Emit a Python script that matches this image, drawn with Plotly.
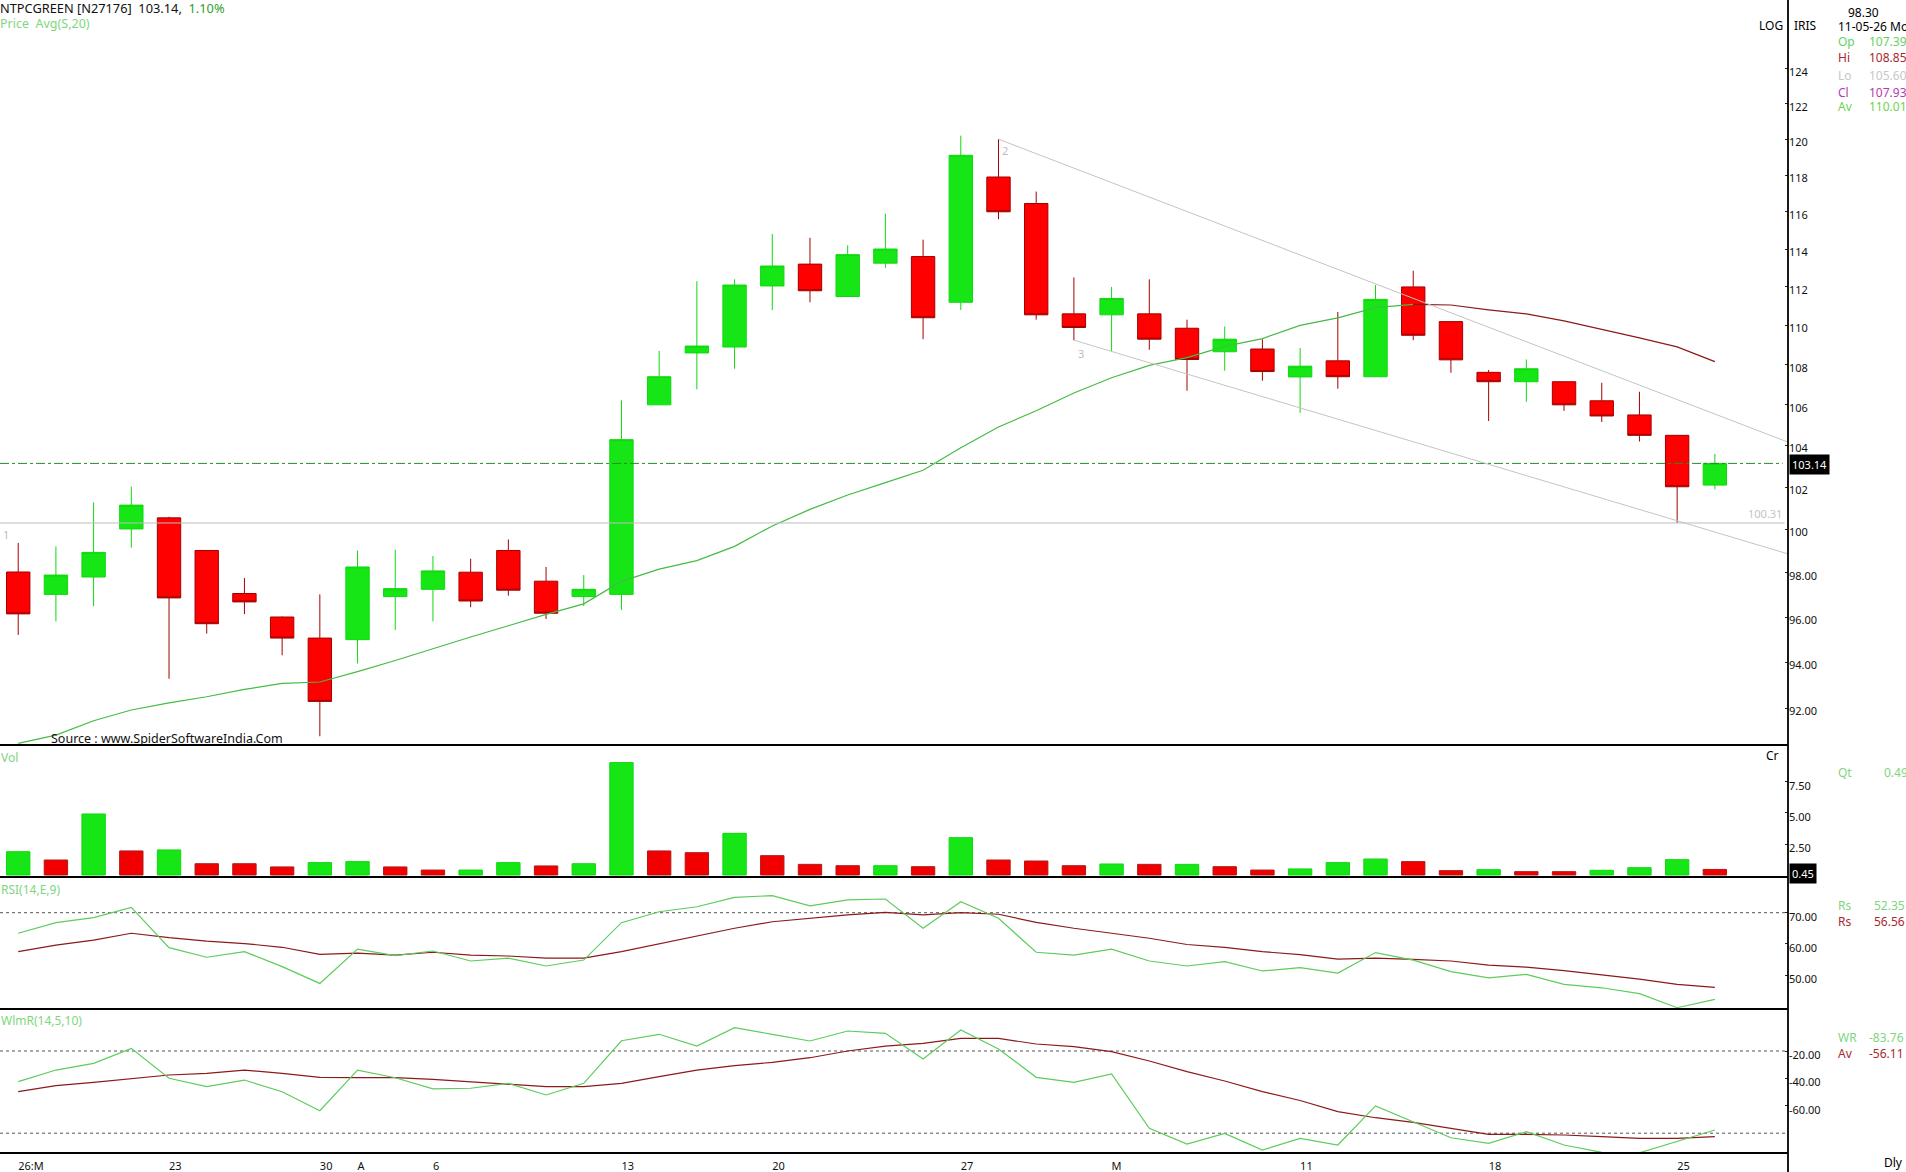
import math
import plotly.graph_objects as go

W, H = 1906, 1172
FONT = "Noto Sans"

# ---------------- data ----------------
dates = ["17-03", "18-03", "19-03", "20-03", "23-03", "24-03", "25-03", "27-03", "30-03",
         "01-04", "02-04", "06-04", "07-04", "08-04", "09-04", "10-04", "13-04", "15-04",
         "16-04", "17-04", "20-04", "21-04", "22-04", "23-04", "24-04", "27-04", "28-04",
         "29-04", "30-04", "04-05", "05-05", "06-05", "07-05", "08-05", "11-05", "12-05",
         "13-05", "14-05", "15-05", "18-05", "19-05", "20-05", "21-05", "22-05", "25-05",
         "26-05"]

opens = [98.04, 97.02, 97.81, 100.03, 100.55, 99.03, 97.06, 96.00, 95.06,
         94.99, 96.92, 97.25, 98.03, 99.03, 97.62, 96.92, 97.02, 106.00,
         108.60, 108.90, 112.05, 113.20, 111.50, 113.25, 113.60, 111.20, 117.90,
         116.45, 110.60, 110.55, 110.60, 109.86, 108.66, 108.80, 107.39, 108.20,
         107.40, 112.00, 110.20, 107.62, 107.15, 107.15, 106.20, 105.50, 104.50,
         102.10]
highs = [99.38, 99.22, 101.28, 102.03, 100.60, 99.05, 97.76, 96.02, 97.02,
         99.03, 99.07, 98.78, 98.65, 99.54, 98.27, 97.90, 106.22, 108.70,
         112.30, 112.40, 114.80, 114.60, 114.20, 115.90, 114.50, 120.20, 120.00,
         117.10, 112.50, 112.00, 112.40, 110.30, 109.95, 109.30, 108.85, 110.70,
         112.10, 112.85, 110.22, 107.74, 108.27, 107.17, 107.10, 106.65, 104.52,
         103.60]
lows = [95.20, 95.80, 96.49, 99.16, 93.27, 95.26, 96.13, 94.30, 90.80,
        93.94, 95.42, 95.80, 96.44, 96.96, 95.91, 96.49, 96.32, 106.00,
        106.77, 107.80, 110.80, 111.20, 111.50, 113.00, 109.30, 110.80, 115.60,
        110.30, 109.25, 108.70, 108.76, 106.70, 107.70, 107.20, 105.60, 106.80,
        107.40, 109.25, 107.60, 105.20, 106.15, 105.70, 105.15, 104.20, 100.31,
        101.90]
closes = [96.14, 97.90, 98.94, 101.15, 96.86, 95.70, 96.68, 95.06, 92.29,
          98.27, 97.28, 98.09, 96.72, 97.21, 96.17, 97.25, 104.29, 107.40,
          108.95, 112.10, 113.10, 111.80, 113.70, 114.00, 110.40, 119.10, 116.00,
          110.55, 109.90, 111.40, 109.30, 108.27, 109.30, 107.66, 107.93, 107.40,
          111.35, 109.50, 108.25, 107.15, 107.80, 106.00, 105.45, 104.50, 102.02,
          103.14]

price_avg20 = [90.50, 90.85, 91.46, 91.92, 92.23, 92.49, 92.81, 93.07, 93.13,
               93.58, 94.07, 94.60, 95.11, 95.61, 96.12, 96.59, 97.61, 98.17,
               98.56, 99.22, 100.17, 100.95, 101.63, 102.22, 102.81, 103.90, 104.91,
               105.71, 106.59, 107.35, 107.97, 108.36, 108.93, 109.33, 110.01, 110.39,
               110.92, 111.09, 111.06, 110.81, 110.60, 110.24, 109.81, 109.37, 108.91,
               108.16]
avg_turn_index = 37  # average line drawn green up to here, dark red after

volume_cr = [1.88, 1.21, 4.92, 1.94, 2.02, 0.91, 0.91, 0.65, 1.00,
             1.08, 0.65, 0.40, 0.40, 1.00, 0.73, 0.91, 9.06, 1.94,
             1.80, 3.36, 1.56, 0.86, 0.75, 0.75, 0.67, 3.01, 1.21,
             1.13, 0.75, 0.89, 0.86, 0.86, 0.67, 0.40, 0.49, 1.00,
             1.29, 1.08, 0.35, 0.43, 0.27, 0.27, 0.38, 0.59, 1.24,
             0.45]
volume_dir = ["G", "R", "G", "R", "G", "R", "R", "R", "G",
              "G", "R", "R", "G", "G", "R", "G", "G", "R",
              "R", "G", "R", "R", "R", "G", "R", "G", "R",
              "R", "R", "G", "R", "G", "R", "R", "G", "G",
              "G", "R", "R", "G", "R", "R", "G", "G", "G",
              "R"]

rsi = [63.4, 66.8, 68.4, 71.7, 58.8, 55.7, 57.5, 52.7, 47.3,
       58.3, 56.2, 57.7, 54.5, 55.4, 52.9, 54.8, 66.8, 70.3,
       71.9, 74.9, 75.5, 72.2, 74.1, 74.4, 65.0, 73.5, 68.2,
       57.3, 56.4, 58.3, 54.5, 52.9, 54.3, 51.3, 52.35, 50.6,
       57.2, 54.8, 51.1, 49.1, 50.2, 47.0, 45.9, 44.0, 39.5,
       42.2]
rsi_signal = [57.5, 59.6, 61.2, 63.4, 62.0, 60.9, 60.1, 58.9, 56.6,
              57.0, 56.4, 57.3, 56.4, 56.1, 55.4, 55.4, 57.5, 60.0,
              62.3, 65.0, 67.1, 68.2, 69.3, 70.1, 69.3, 70.0, 69.5,
              66.9, 65.0, 63.4, 61.8, 59.8, 58.9, 57.5, 56.56, 55.1,
              55.4, 55.0, 54.5, 53.2, 52.5, 51.4, 50.0, 48.7, 47.0,
              46.0]

willr = [-42.4, -33.9, -29.0, -18.1, -39.9, -46.0, -41.2, -49.7, -63.6,
         -33.9, -39.5, -47.7, -47.2, -43.6, -52.1, -43.6, -12.5, -7.8,
         -16.4, -3.0, -7.8, -12.7, -5.4, -7.1, -25.8, -4.7, -18.5,
         -39.2, -42.9, -36.8, -76.4, -87.9, -80.1, -92.3, -83.76, -88.6,
         -60.1, -71.6, -83.3, -87.4, -78.9, -88.6, -94.0, -94.3, -86.2,
         -77.7]
willr_avg = [-49.7, -45.3, -42.9, -40.4, -37.5, -36.3, -33.9, -36.3, -39.2,
             -39.5, -39.5, -40.7, -42.4, -44.3, -46.0, -46.0, -43.6, -38.7,
             -33.9, -30.7, -28.3, -24.9, -20.0, -16.4, -14.4, -10.8, -10.8,
             -14.9, -16.8, -20.5, -27.3, -35.1, -41.9, -49.7, -56.11, -64.3,
             -68.7, -72.1, -76.4, -80.8, -80.8, -81.3, -82.5, -83.8, -83.8,
             -82.5]

tick_dates = ["17-03", "23-03", "30-03", "01-04", "06-04", "13-04", "20-04",
              "27-04", "04-05", "11-05", "18-05", "25-05"]
tick_text = ["26:M", "23", "30", "A", "6", "13", "20", "27", "M", "11", "18", "25"]

price_ticks = [92, 94, 96, 98, 100, 102, 104, 106, 108, 110, 112, 114, 116, 118, 120, 122, 124]
price_tick_text = ["92.00", "94.00", "96.00", "98.00", "100", "102", "104", "106", "108",
                   "110", "112", "114", "116", "118", "120", "122", "124"]

last_price = 103.14
support_level = 100.31
# trend channel: [start index, start price] -> [end index, end price]
upper_trend_x = [26, 46.94]
upper_trend_y = [120.0, 104.17]
lower_trend_x = [28, 46.94]
lower_trend_y = [109.25, 98.87]

# ---------------- figure ----------------
x = list(range(len(dates)))
tick_idx = [dates.index(d) for d in tick_dates]
X0, X1 = -0.483, 46.94
XR = 1788 / W


def pyp(px):
    return 1 - px / H


GREEN = "#16e616"
RED = "#ff0000"
DRED = "#a40000"

fig = go.Figure()

# price candles
fig.add_trace(go.Candlestick(
    x=x, open=opens, high=highs, low=lows, close=closes,
    increasing=dict(line=dict(color="#10d810", width=1), fillcolor=GREEN),
    decreasing=dict(line=dict(color=DRED, width=1), fillcolor=RED),
    whiskerwidth=0, xaxis="x", yaxis="y", hoverinfo="skip"))

# price average
fig.add_trace(go.Scatter(x=x[:avg_turn_index + 1], y=price_avg20[:avg_turn_index + 1],
                         mode="lines", line=dict(color="#45bb45", width=1.2),
                         xaxis="x", yaxis="y"))
fig.add_trace(go.Scatter(x=x[avg_turn_index:], y=price_avg20[avg_turn_index:],
                         mode="lines", line=dict(color="#8b1a1a", width=1.2),
                         xaxis="x", yaxis="y"))

# horizontal references
fig.add_trace(go.Scatter(x=[X0, 46.85], y=[support_level, support_level], mode="lines",
                         line=dict(color="#bdbdbd", width=1), xaxis="x", yaxis="y"))
fig.add_trace(go.Scatter(x=[X0, 46.8], y=[last_price, last_price], mode="lines",
                         line=dict(color="#2a8a2a", width=1, dash="dashdot"),
                         xaxis="x", yaxis="y"))
# trend channel
fig.add_trace(go.Scatter(x=upper_trend_x, y=upper_trend_y, mode="lines",
                         line=dict(color="#c4c4c4", width=1), xaxis="x", yaxis="y"))
fig.add_trace(go.Scatter(x=lower_trend_x, y=lower_trend_y, mode="lines",
                         line=dict(color="#c4c4c4", width=1), xaxis="x", yaxis="y"))

# volume
vcol = [GREEN if d == "G" else "#f20000" for d in volume_dir]
vline = ["#10d810" if d == "G" else "#b01818" for d in volume_dir]
fig.add_trace(go.Bar(x=x, y=volume_cr, width=0.62, marker=dict(color=vcol, line=dict(color=vline, width=1)),
                     xaxis="x", yaxis="y2"))

# RSI
fig.add_trace(go.Scatter(x=[X0, X1], y=[70, 70], mode="lines",
                         line=dict(color="#555555", width=1, dash="dot"), xaxis="x", yaxis="y3"))
fig.add_trace(go.Scatter(x=x, y=rsi_signal, mode="lines", line=dict(color="#8b1a1a", width=1.2),
                         xaxis="x", yaxis="y3"))
fig.add_trace(go.Scatter(x=x, y=rsi, mode="lines", line=dict(color="#5ccc5c", width=1.2),
                         xaxis="x", yaxis="y3"))

# Williams %R
for lvl in (-20, -80):
    fig.add_trace(go.Scatter(x=[X0, X1], y=[lvl, lvl], mode="lines",
                             line=dict(color="#555555", width=1, dash="dot"), xaxis="x", yaxis="y4"))
fig.add_trace(go.Scatter(x=x, y=willr_avg, mode="lines", line=dict(color="#8b1a1a", width=1.2),
                         xaxis="x", yaxis="y4"))
fig.add_trace(go.Scatter(x=x, y=willr, mode="lines", line=dict(color="#5ccc5c", width=1.2),
                         xaxis="x", yaxis="y4"))

tickfont = dict(family=FONT, size=11, color="#111111")
common_y = dict(side="right", anchor="x", showgrid=False, zeroline=False, showline=False,
                ticks="inside", ticklen=3, tickcolor="#222222", tickfont=tickfont,
                fixedrange=True)

fig.update_layout(
    width=W, height=H, margin=dict(l=0, r=0, t=0, b=0),
    paper_bgcolor="white", plot_bgcolor="white", showlegend=False,
    boxgap=0.38, boxgroupgap=0, bargap=0.38,
    xaxis=dict(domain=[0, XR], range=[X0, X1], anchor="y4", showgrid=False, zeroline=False,
               showline=False, tickvals=tick_idx, ticktext=tick_text, ticks="",
               ticklabelposition="outside right", tickfont=tickfont, ticklabelstandoff=5,
               rangeslider=dict(visible=False), fixedrange=True),
    yaxis=dict(domain=[pyp(745), 1], type="log",
               range=[math.log10(90.43), math.log10(128.06)],
               tickvals=price_ticks, ticktext=price_tick_text, ticklabelshift=3, **common_y),
    yaxis2=dict(domain=[pyp(877), pyp(745)], range=[-0.16, 10.48],
                tickvals=[2.5, 5, 7.5], ticktext=["2.50", "5.00", "7.50"],
                ticklabelshift=4, **common_y),
    yaxis3=dict(domain=[pyp(1009), pyp(877)], range=[39.09, 81.46],
                tickvals=[50, 60, 70], ticktext=["50.00", "60.00", "70.00"],
                ticklabelshift=4, **common_y),
    yaxis4=dict(domain=[pyp(1153), pyp(1009)], range=[-94.45, 10.66],
                tickvals=[-60, -40, -20], ticktext=["-60.00", "-40.00", "-20.00"],
                ticklabelshift=4, **common_y),
)

# frame lines
shapes = [dict(type="line", xref="paper", yref="paper", x0=XR, x1=XR, y0=0, y1=1,
               line=dict(color="black", width=1.8))]
for ypx in (745, 877, 1009, 1153):
    shapes.append(dict(type="line", xref="paper", yref="paper", x0=0, x1=XR,
                       y0=pyp(ypx), y1=pyp(ypx), line=dict(color="black", width=1.8)))
fig.update_layout(shapes=shapes)


def note(text, xpx, ypx, color="black", size=12, xanchor="left", **kw):
    return dict(text=text, x=xpx / W, y=pyp(ypx), xref="paper", yref="paper",
                xanchor=xanchor, yanchor="middle", showarrow=False,
                font=dict(family=FONT, size=size, color=color), **kw)


LG = "#7ed67e"
ann = [
    note("NTPCGREEN [N27176]&nbsp;&nbsp;103.14,&nbsp;&nbsp;<span style='color:#2f9e2f'>1.10%</span>",
         -1, 8, color="#111111", size=12.8, borderpad=0),
    note("Price&nbsp;&nbsp;Avg(S,20)", -1, 23, color=LG, size=12.5, borderpad=0),
    note("LOG", 1771, 26, xanchor="center"),
    note("IRIS", 1805, 26, xanchor="center"),
    note("98.30", 1863, 12, xanchor="center"),
    note("11-05-26 Mo", 1836, 27),
    note("Op", 1836, 42, color="#5fd35f"), note("107.39", 1867, 42, color="#5fd35f"),
    note("Hi", 1836, 58, color="#a8282d"), note("108.85", 1867, 58, color="#a8282d"),
    note("Lo", 1836, 76, color="#c8c8c8"), note("105.60", 1867, 76, color="#c8c8c8"),
    note("Cl", 1836, 92, color="#b23cb2"), note("107.93", 1867, 92, color="#b23cb2"),
    note("Av", 1836, 107, color="#72d24f"), note("110.01", 1867, 107, color="#72d24f"),
    note("103.14", 1789, 465, color="white", size=11, bgcolor="black", borderpad=2),
    note("100.31", 1784, 513, color="#c4c4c4", size=11, xanchor="right"),
    note("1", 6, 534, color="#bdbdbd", size=11, xanchor="center"),
    note("2", 1005, 150, color="#bdbdbd", size=11, xanchor="center"),
    note("3", 1081, 353, color="#bdbdbd", size=11, xanchor="center"),
    note("Source : www.SpiderSoftwareIndia.Com", 49, 738, color="#111111", size=12.5),
    note("Vol", -1, 757, color=LG, size=12),
    note("Cr", 1772, 755, xanchor="center"),
    note("Qt", 1836, 772, color=LG), note("0.49", 1882, 772, color=LG),
    note("0.45", 1789, 873, color="white", size=11, bgcolor="black", borderpad=2),
    note("RSI(14,E,9)", -1, 889, color=LG, size=12),
    note("Rs", 1836, 905, color=LG), note("52.35", 1872, 905, color=LG),
    note("Rs", 1836, 921, color="#a8282d"), note("56.56", 1872, 921, color="#a8282d"),
    note("WlmR(14,5,10)", -1, 1020, color=LG, size=12),
    note("WR", 1836, 1037, color=LG), note("-83.76", 1867, 1037, color=LG),
    note("Av", 1836, 1053, color="#a8282d"), note("-56.11", 1867, 1053, color="#a8282d"),
    note("Dly", 1893, 1162, xanchor="center"),
]
fig.update_layout(annotations=ann)

fig.write_html("out.html")
